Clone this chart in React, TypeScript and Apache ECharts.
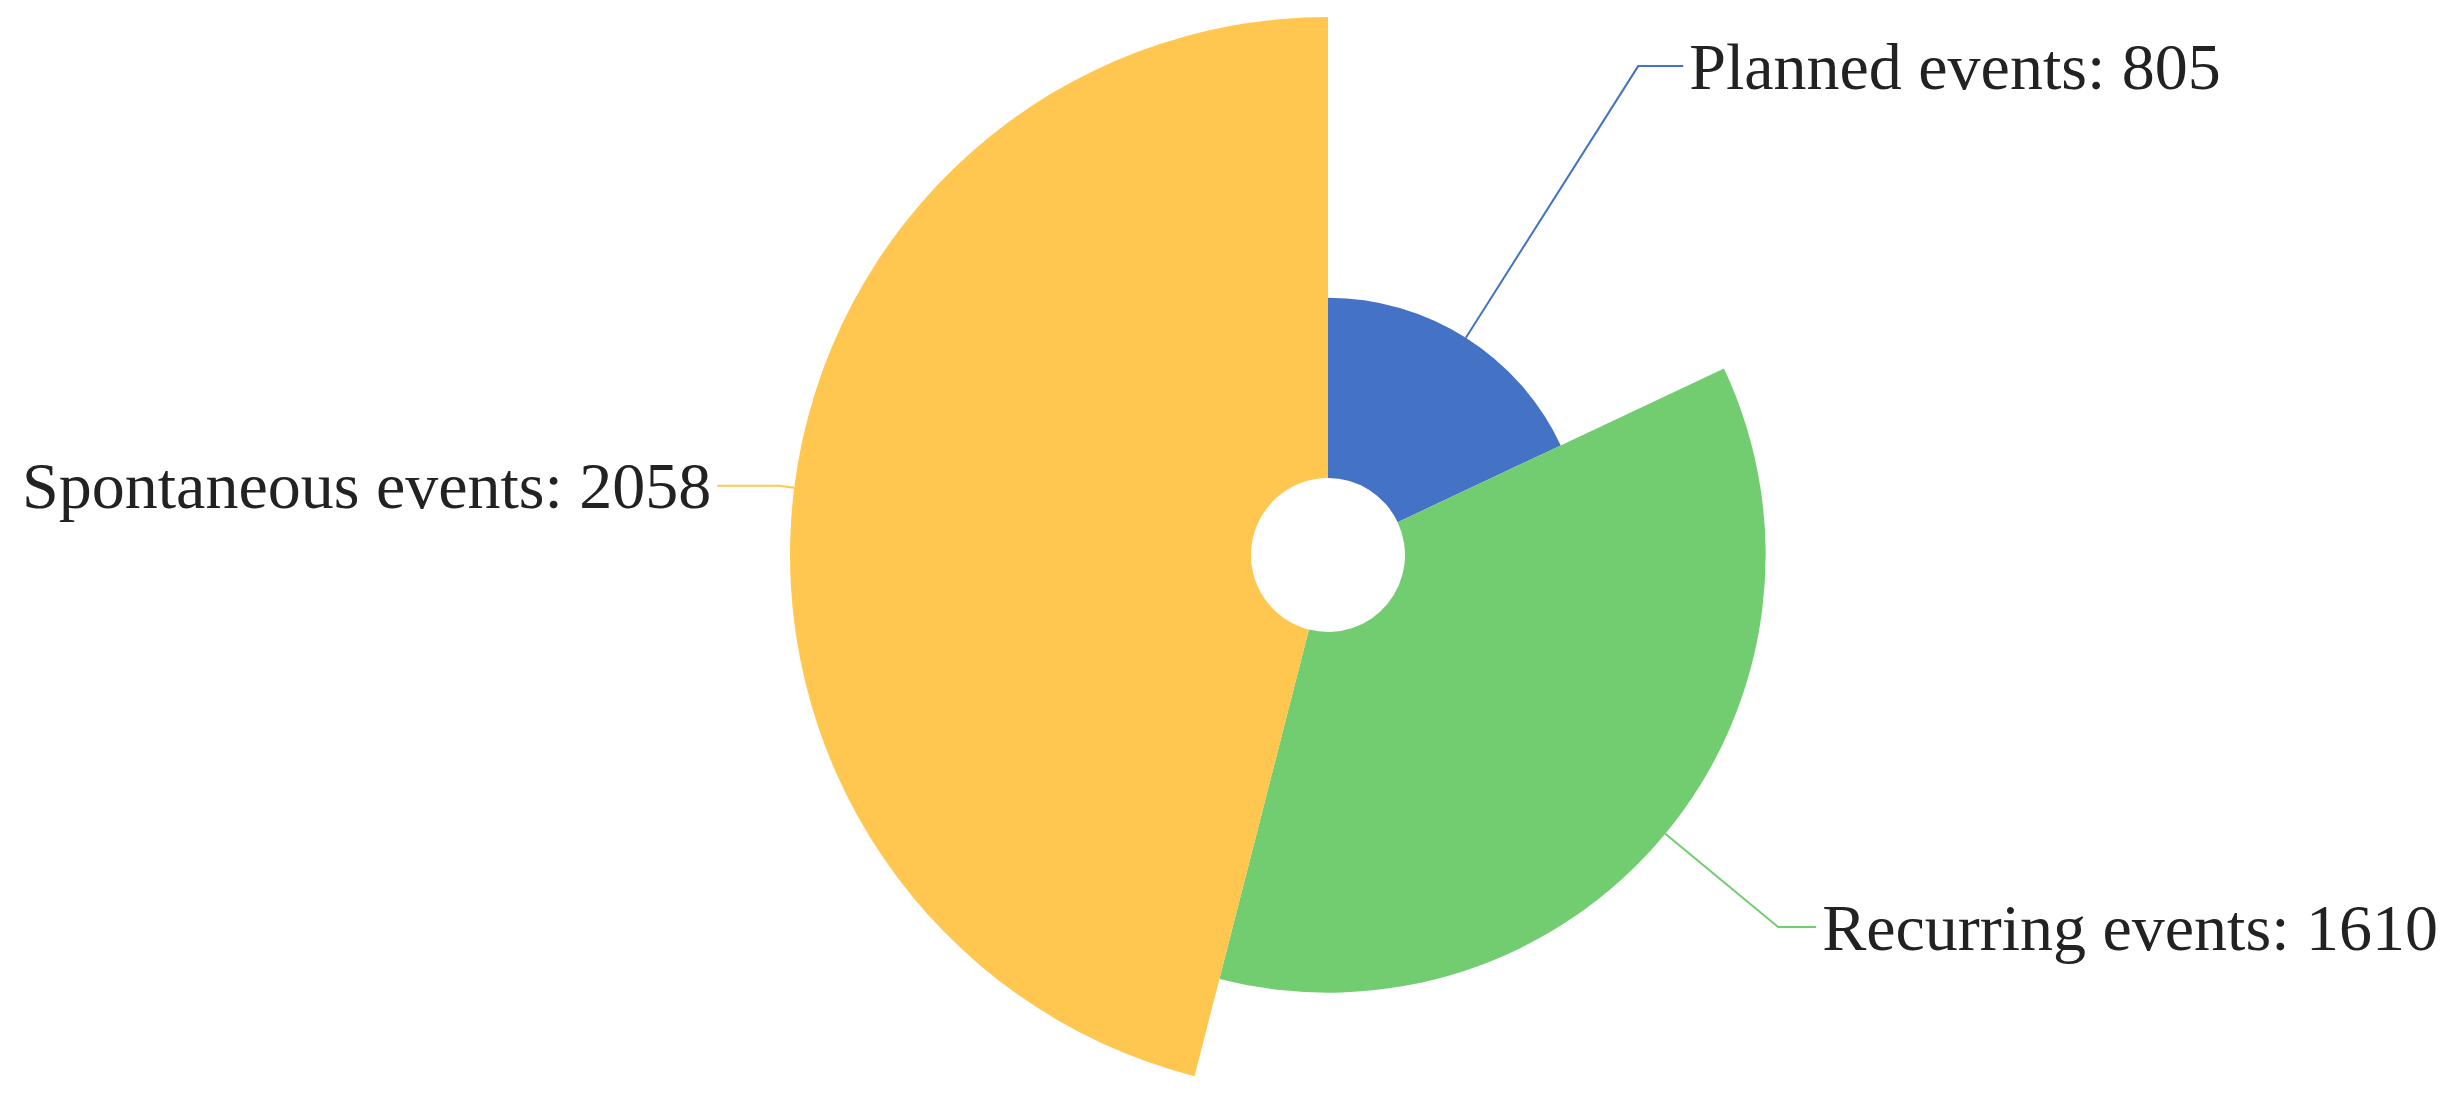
import React, { useEffect, useRef } from "react";
import * as echarts from "echarts";

const categories = ["Planned events", "Recurring events", "Spontaneous events"];
const values = [805, 1610, 2058];
const colors = ["#4472C4", "#71CD70", "#FFC74F"];
const lineLengths = [41, 46, 15];
const lineLengths2 = [45, 38, 62];

export default function App() {
  const ref = useRef<HTMLDivElement>(null);
  useEffect(() => {
    if (!ref.current) return;
    const chart = echarts.init(ref.current, undefined, { renderer: "svg" });
    chart.setOption({
      animation: false,
      backgroundColor: "#ffffff",
      series: [
        {
          type: "pie",
          roseType: "radius",
          center: [1328, 555],
          radius: [77, 538],
          startAngle: 90,
          clockwise: true,
          avoidLabelOverlap: false,
          label: {
            show: true,
            formatter: "{b}: {c}",
            fontFamily: "Liberation Serif",
            fontSize: 66,
            color: "#222222",
            distanceToLabelLine: 6,
          },
          labelLine: { show: true, lineStyle: { width: 2 } },
          data: categories.map((name, i) => ({
            name,
            value: values[i],
            itemStyle: { color: colors[i] },
            labelLine: {
              length: lineLengths[i],
              length2: lineLengths2[i],
              lineStyle: { color: colors[i], width: 2 },
            },
          })),
        },
      ],
    });
    return () => chart.dispose();
  }, []);
  return (
    <div
      ref={ref}
      style={{ position: "fixed", left: 0, top: 0, width: 2457, height: 1101 }}
    />
  );
}
